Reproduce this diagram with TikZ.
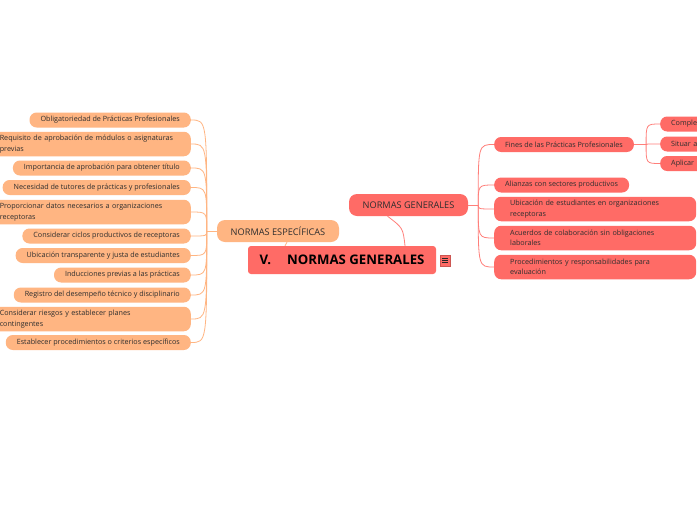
\documentclass[tikz,border=0pt]{standalone}
\usepackage{fontspec}
\setmainfont{Open Sans}
\definecolor{rojo}{HTML}{FF6B66}
\definecolor{rojoclaro}{HTML}{FF7F7A}
\definecolor{naranja}{HTML}{FFB582}
\definecolor{texto}{HTML}{2E2E2E}
\tikzset{
  hoja/.style={rounded corners=7pt,inner xsep=11pt,inner ysep=0pt,minimum height=15pt,
    font=\fontsize{7.2}{10.5}\selectfont,text=texto},
  hojan/.style={hoja,fill=naranja},
  hojar/.style={hoja,fill=rojo},
  doble/.style={text width=#1,align=left,minimum height=24.5pt},
  rama/.style={rounded corners=8pt,minimum height=22pt,inner ysep=0pt,
    font=\fontsize{9.2}{11}\selectfont,text=texto},
  conexn/.style={draw=naranja,line width=0.8pt},
  conexr/.style={draw=rojoclaro,line width=0.8pt}
}
\begin{document}
\begin{tikzpicture}[x=1pt,y=-1pt]
   \useasboundingbox[fill=white] (0,0) rectangle (697,520);
   \clip (0,0) rectangle (697,520);

   % nodo central
   \node[fill=rojo,rounded corners=3pt,minimum width=188pt,minimum height=28pt,
     font=\fontsize{13.2}{15}\bfseries,text=black] (centro) at (342,260)
     {V.\hspace{16pt}NORMAS GENERALES};
   \node[fill=rojo,draw=rojo!80!black,line width=0.3pt,minimum width=10pt,minimum height=11pt,
     inner sep=0pt] (menu) at (445,260.5) {};
   \foreach \dy in {-2.2,0,2.2}
     \draw[line width=0.7pt,black!85] ([xshift=-3pt,yshift=\dy pt]menu.center) -- ([xshift=3pt,yshift=\dy pt]menu.center);

   % ramas principales
   \node[rama,fill=rojo,minimum width=119pt] (gen) at (408.5,205) {NORMAS GENERALES};
   \node[rama,fill=naranja,minimum width=122pt] (esp) at (278,231) {NORMAS ESPECÍFICAS};
   \draw[conexr] ([xshift=63pt]centro.north) .. controls (403,228) .. ([xshift=-21pt]gen.south);
   \draw[conexn] ([xshift=-57pt]centro.north) -- ([xshift=9pt]esp.south);

   % normas especificas
   \node[hojan,anchor=east] (e1) at (191,120) {Obligatoriedad de Prácticas Profesionales};
   \node[hojan,anchor=east,doble=180pt] (e2) at (191,144) {Requisito de aprobación de módulos o asignaturas\\previas};
   \node[hojan,anchor=east] (e3) at (191,168) {Importancia de aprobación para obtener título};
   \node[hojan,anchor=east] (e4) at (191,187.5) {Necesidad de tutores de prácticas y profesionales};
   \node[hojan,anchor=east,doble=180pt] (e5) at (191,212) {Proporcionar datos necesarios a organizaciones\\receptoras};
   \node[hojan,anchor=east] (e6) at (191,236) {Considerar ciclos productivos de receptoras};
   \node[hojan,anchor=east] (e7) at (191,255.5) {Ubicación transparente y justa de estudiantes};
   \node[hojan,anchor=east] (e8) at (191,275) {Inducciones previas a las prácticas};
   \node[hojan,anchor=east] (e9) at (191,295) {Registro del desempeño técnico y disciplinario};
   \node[hojan,anchor=east,doble=180pt] (e10) at (191,319) {Considerar riesgos y establecer planes\\contingentes};
   \node[hojan,anchor=east] (e11) at (191,342.5) {Establecer procedimientos o criterios específicos};

   \draw[conexn] (esp.west) -- ++(-10,0) coordinate (nesp);
   \foreach \h in {e1,e2,e3,e4,e5,e6,e7,e8,e9,e10,e11}
     \draw[conexn] (nesp) .. controls (nesp |- \h.east) .. (\h.east);

   % normas generales
   \node[hojar,anchor=west] (g1) at (494,144.5) {Fines de las Prácticas Profesionales};
   \node[hojar,anchor=west] (g2) at (494,185) {Alianzas con sectores productivos};
   \node[hojar,anchor=west,doble=170pt,inner xsep=16pt] (g3) at (494,209) {Ubicación de estudiantes en organizaciones\\receptoras};
   \node[hojar,anchor=west,doble=170pt,inner xsep=16pt] (g4) at (494,238) {Acuerdos de colaboración sin obligaciones\\laborales};
   \node[hojar,anchor=west,doble=170pt,inner xsep=16pt] (g5) at (494,267) {Procedimientos y responsabilidades para\\evaluación};

   \draw[conexr] (gen.east) -- ++(10,0) coordinate (ngen);
   \foreach \h in {g1,g2,g3,g4,g5}
     \draw[conexr] (ngen) .. controls (ngen |- \h.west) .. (\h.west);

   % fines
   \node[hojar,anchor=west,text width=60pt,align=left] (f1) at (660,124) {Comple};
   \node[hojar,anchor=west,text width=60pt,align=left] (f2) at (660,144) {Situar a};
   \node[hojar,anchor=west,text width=60pt,align=left] (f3) at (660,163.5) {Aplicar};

   \draw[conexr] (g1.east) -- ++(12,0) coordinate (nfin);
   \foreach \h in {f1,f2,f3}
     \draw[conexr] (nfin) .. controls (nfin |- \h.west) .. (\h.west);

 \end{tikzpicture}
\end{document}
